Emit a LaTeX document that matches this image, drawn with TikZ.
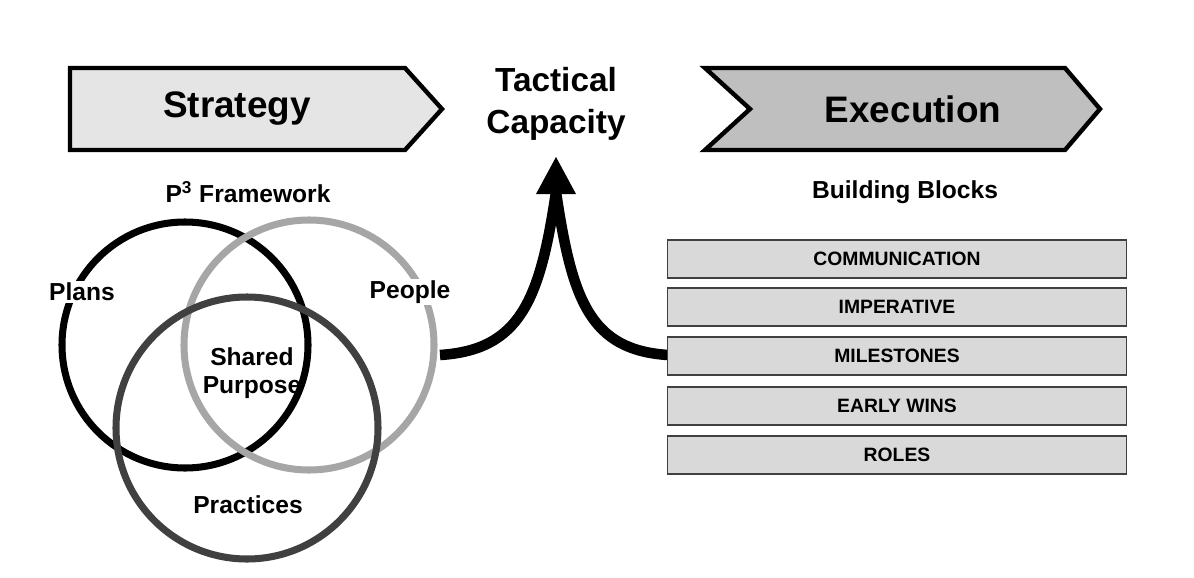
\documentclass[tikz,border=0pt]{standalone}
\usepackage{fontspec}
\setmainfont{Liberation Sans}
\usetikzlibrary{arrows.meta}
\begin{document}
\begin{tikzpicture}[x=0.02cm,y=-0.02cm,
  lbl/.style={font=\bfseries\fontsize{14}{16}\selectfont},
  blk/.style={draw=black!75,line width=1pt,fill=black!15,minimum width=459*0.02cm,minimum height=38*0.02cm,font=\bfseries\fontsize{11}{13}\selectfont},
  big/.style={font=\bfseries\fontsize{21}{24}\selectfont}]
\useasboundingbox (0,0) rectangle (1194,578);
\draw[line width=2.5pt,fill=black!10,line join=miter] (70,68) -- (405,68) -- (442,109) -- (405,150) -- (70,150) -- cycle;
\node[big] (strat) at (237,109) {Strategy};
\draw[line width=2.5pt,fill=black!25,line join=miter] (705,68) -- (1065,68) -- (1100,109) -- (1065,150) -- (705,150) -- (750,109) -- cycle;
\node[big] (exec) at (913,109) {Execution};
\node[font=\bfseries\fontsize{19}{24}\selectfont,align=center] (tc) at (556,104) {Tactical\\Capacity};
\coordinate (tip) at (556,157);
\coordinate (base) at (556,192);
\draw[line width=6pt] (440,355) .. controls (520,350) and (540,300) .. (base);
\draw[line width=6pt] (668,355) .. controls (590,350) and (572,300) .. (base);
\fill (tip) -- (536,194) -- (576,194) -- cycle;
\node[lbl] (p3) at (248,192) {P\textsuperscript{3} Framework};
\node[lbl] (bb) at (905,192) {Building Blocks};
\draw[line width=4pt,black] (185,345) circle (123);
\draw[line width=4pt,black!35] (309,345) circle (125);
\draw[line width=4pt,black!75] (247,428) circle (131);
\node[lbl,fill=white,inner sep=1pt] (plans) at (82,292) {Plans};
\node[lbl,fill=white,inner sep=1pt] (people) at (410,292) {People};
\node[lbl,align=center] (sp) at (252,373) {Shared\\Purpose};
\node[lbl,fill=white,inner sep=1pt] (prac) at (248,505) {Practices};
\node[blk] (b1) at (897,259) {COMMUNICATION};
\node[blk] (b2) at (897,307) {IMPERATIVE};
\node[blk] (b3) at (897,356) {MILESTONES};
\node[blk] (b4) at (897,406) {EARLY WINS};
\node[blk] (b5) at (897,455) {ROLES};
\end{tikzpicture}
\end{document}
